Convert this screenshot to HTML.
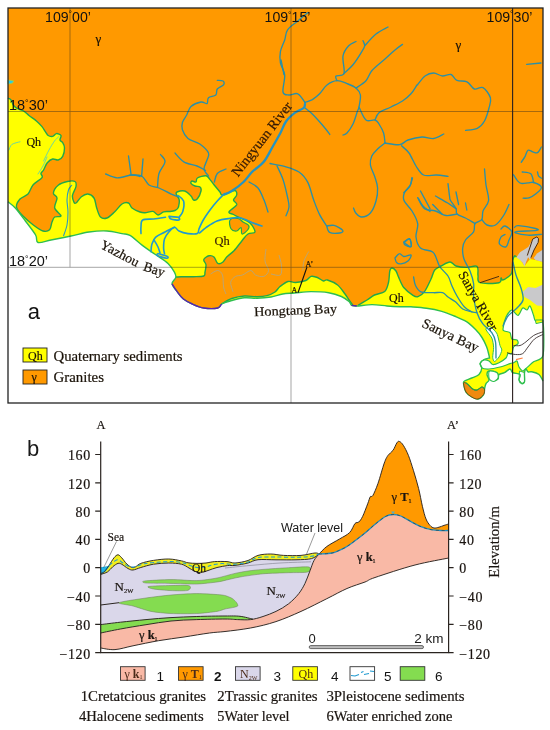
<!DOCTYPE html>
<html lang="en"><head><meta charset="utf-8"><title>Geological map and cross-section</title>
<style>
html,body{margin:0;padding:0;background:#fff;}
svg{display:block;}
text{white-space:pre;}
</style></head><body>
<svg width="550" height="730" viewBox="0 0 550 730">
<rect width="550" height="730" fill="#fff"/>
<g id="map">
<rect x="8" y="8" width="535" height="395" fill="#ff9900"/>
<path d="M8 98.2C8.5 98.5 10.1 98.8 11 100C11.9 101.2 12.4 104 13.6 105.5C14.8 107 16.5 108.1 18.2 109C19.9 109.9 21.8 109.9 23.6 111C25.4 112.1 26.9 113.8 29 115.5C31.1 117.2 34.3 119.2 36.4 121C38.5 122.8 40.3 124.6 41.8 126.4C43.3 128.2 44.4 130.3 45.5 131.8C46.6 133.3 47 134.7 48.2 135.5C49.4 136.3 51.3 136.7 52.7 136.4C54.1 136.1 55 133.8 56.4 133.6C57.8 133.4 60.4 134.4 61 135.5C61.6 136.6 59.7 138.8 60 140C60.3 141.2 62 141.4 62.7 142.7C63.5 144 64.5 145.7 64.5 148C64.5 150.3 63.8 154.4 62.7 156.4C61.7 158.4 59.9 159.6 58.2 160C56.5 160.4 54.5 158.6 52.7 159C50.9 159.4 48.8 160.9 47.3 162.7C45.8 164.5 44.6 168.2 43.6 170C42.6 171.8 41.3 172.2 41 173.5C40.7 174.8 43.3 175.7 42 177.6C40.7 179.5 35.3 182.3 33 185C30.7 187.7 30.2 191.7 28 194C25.8 196.3 21.9 196.8 20 199C18.1 201.2 16 204.2 16.5 207C17 209.8 20.2 213.1 23 216C25.8 218.9 29.7 222.2 33 224.7C36.3 227.2 40.2 230.2 43 231C45.8 231.8 48.1 231.3 49.6 229.8C51.1 228.3 51.1 224.1 52 222C52.9 219.9 53.2 218 54.7 217C56.2 216 61 217.3 61 215.8C61 214.3 55.4 211 54.7 208C54 205 57.2 200.5 57 198C56.8 195.5 53.1 195.2 53.4 193C53.6 190.8 56.2 186.9 58.5 185C60.8 183.1 64.7 182.1 67.4 181.5C70.2 180.9 73.6 180.7 75 181.5C76.4 182.3 76.4 184.2 76 186.5C75.6 188.8 72.9 192.8 72.5 195.4C72.1 198 73.2 200.5 73.8 201.8C74.4 203.1 74.7 203.8 76 203C77.3 202.2 79.4 198.2 81.4 196.7C83.4 195.2 85.7 193.8 87.8 194C89.9 194.2 92.5 195.7 94 198C95.5 200.3 95.6 204.8 96.7 208C97.8 211.2 98.8 215.3 100.5 217C102.2 218.7 104.7 218.8 107 218C109.3 217.2 112 214.3 114.5 212C117 209.7 119.7 205.5 122 204C124.3 202.5 126.8 202.3 128.5 203C130.2 203.7 130.1 206.5 132 208C133.9 209.5 137.8 211.2 140 212C142.2 212.8 142.8 212.8 145 212.7C147.2 212.6 150.8 211 153 211.4C155.2 211.8 156.2 214.9 158 215C159.8 215.1 161.6 212.4 163.6 211.8C165.6 211.2 168.1 211.7 170 211.5C171.9 211.3 173.7 211.1 175 210.5C176.3 209.9 177.3 209.2 178 208C178.7 206.8 179 204.5 179.2 203C179.4 201.5 179.5 200.4 179 199C178.5 197.6 176.7 195.7 176.4 194.5C176.1 193.3 175.6 192.6 177 192C178.4 191.4 182.4 190.3 184.7 191C187 191.7 189.5 194.5 191 196C192.5 197.5 192.5 199.6 193.6 200C194.7 200.4 196.2 200.2 197.4 198.7C198.6 197.2 200.6 192.9 201 191C201.4 189.1 201 187.8 200 187C199 186.2 196.5 186.6 195 186C193.5 185.4 191.5 184.2 191 183.4C190.5 182.6 191.2 181.2 192 181C192.8 180.8 195.1 182.5 196 182C196.9 181.5 195.7 179 197.4 178C199.1 177 203.9 175.5 206 175.8C208.1 176.1 208.7 178.1 210 179.6C211.3 181.1 212.3 182.6 214 184.7C215.7 186.8 218.6 190.3 220 192C221.4 193.7 220.1 195.2 222.5 195C224.9 194.8 232.1 190.5 234.5 190.5C236.9 190.5 236.9 193.4 236.7 195C236.5 196.6 233.5 198.4 233.5 200C233.5 201.6 237.4 202.7 236.7 204.7C235.9 206.7 229.5 210.4 229 212C228.5 213.6 231.7 213.5 233.5 214.5C235.3 215.5 237.2 216.4 240 217.8C242.8 219.2 247.5 220.6 250 223C252.5 225.4 255.3 230.2 255 232C254.7 233.8 250.2 232.6 248 234C245.8 235.4 244.3 237.9 242 240.7C239.7 243.5 236.6 248 234 250.7C231.4 253.4 228.5 255.1 226.7 257C224.9 258.9 224.5 260.9 223 262C221.5 263.1 219.3 264.2 217.8 263.4C216.3 262.6 215.5 258.3 214 257C212.5 255.7 210.7 255.4 209 255.8C207.3 256.2 204.3 258.1 203.8 259.6C203.3 261.1 205.8 262.6 206 264.7C206.2 266.8 205.4 270.1 205 272C204.6 273.9 205.7 275.2 203.8 276C201.9 276.8 197.4 276.6 193.6 276.7C189.8 276.8 184 276.6 181 276.7C178 276.8 176.7 276.9 175.8 277L160 300L8 300Z" fill="#ffff00"/>
<path d="M221.6 304C223.3 303.1 228 299.8 231.8 298.5C235.6 297.2 240.3 296.3 244.5 296C248.7 295.7 253.2 296.8 257 296.7C260.8 296.6 264 296.4 267 295.6C270 294.8 272.8 293.5 275 292C277.2 290.5 277.8 288.2 280 286.5C282.2 284.8 285.4 282.2 288 281.5C290.6 280.8 292.6 282.7 295.6 282.5C298.6 282.3 303.2 281.5 305.8 280.5C308.4 279.5 309.3 277 311 276.4C312.7 275.8 314.3 276.6 315.8 277C317.3 277.4 318.5 278.1 319.8 278.8C321.1 279.5 322.3 280.8 323.6 281C324.9 281.2 325.1 279.3 327.4 280C329.7 280.7 334.7 282.7 337.6 285C340.5 287.3 343.1 291.5 345 294C346.9 296.5 347.7 298.1 349 300C350.3 301.9 352.3 304.5 353 305.4L353 314L221.6 314Z" fill="#ffff00"/>
<path d="M358 305.4C359.5 304.5 364.2 301.7 367 300C369.8 298.3 371.6 296.4 374.5 295C377.4 293.6 382.4 293.5 384.7 291.4C387 289.3 387.6 285.9 388.5 282.5C389.4 279.1 389.2 273.4 389.8 271C390.4 268.6 391 268 392 268C393 268 394.9 269.4 396 271C397.1 272.6 397.4 274.6 398.7 277.4C400 280.2 401.6 284.8 404 287.8C406.4 290.8 410.7 293.9 413 295.4C415.3 296.9 416.1 297.3 418 296.7C419.9 296.1 422.3 294.6 424.5 291.6C426.7 288.7 429.3 282.6 431 279C432.7 275.4 433 272.2 434.7 270C436.4 267.8 438.4 267.3 441 266C443.6 264.7 447.5 262 450 262C452.5 262 453.2 265.1 456 266C458.8 266.9 463 267.3 466.5 267.4C470 267.5 475.1 265 477 266.4C478.9 267.8 477.5 272.8 478 275.5C478.5 278.2 476.5 281.5 480 282.7C483.5 283.9 495.5 283.5 499 282.7C502.5 281.9 500.4 278.4 501 278C501.6 277.6 501.5 280.2 502.7 280C503.9 279.8 506.5 278.2 508 277C509.5 275.8 511 275.4 511.8 272.7C512.6 270 512.2 263.8 512.7 261C513.2 258.2 513.9 256.7 514.5 256C515.1 255.3 516.1 256.8 516.4 257L520 259L524.5 266L530 259L535.5 260L543 262L543 403L358 403Z" fill="#ffff00"/>
<path d="M230 220C228.8 221.7 229.9 226.9 231 228.7C232.1 230.5 235 231.2 236.7 231C238.4 230.8 240.1 227 241 227.5C241.9 228 240.9 233.6 242 234C243.1 234.4 246.5 231.4 247.6 230C248.7 228.6 249.5 226.8 248.7 225.5C247.9 224.2 244.8 223.2 243 222C241.2 220.8 240.2 218.8 238 218.5C235.8 218.2 231.2 218.3 230 220Z" fill="#ff9900" stroke="#22a84a" stroke-width="1.2"/>
<path d="M516.4 257.3 L520 252.2 L526.4 248.2 L528.5 246.7 L532.7 239.1 L536.9 236.9 L538.5 238.7 L538.2 242.4 L534 250 L530.9 257.6 L530 260 L528.2 257.3 L526.4 261.3 L524.5 266.4 L522.7 262.7 L520 260Z" fill="#c9c9cb"/>
<path d="M543 249.5 L537 253.6 L533.6 258 L535.5 260 L543 262Z" fill="#c9c9cb"/>
<path d="M522.7 292 L528 287 L535.5 288 L543 284.5 L543 306 L537 305.5 L530 300 L524.5 297Z" fill="#c9c9cb"/>
<path d="M527.3 255.5 L532.7 239.1 L536.9 236.9 L538.5 238.7 L538.2 242.4 L534 250 L530.9 257.6" fill="none" stroke="#4a2a10" stroke-width="1"/>
<path d="M8 201.8C9.2 202.8 12.4 204.8 15.3 208C18.2 211.2 22 216.5 25.4 221C28.8 225.5 33.5 231.4 35.6 235C37.7 238.6 35.4 241.7 38 242.5C40.6 243.3 45.5 241.1 51 240C56.5 238.9 64.7 237.3 71 236C77.3 234.7 83 232.8 89 232C95 231.2 101.5 230.7 107 231C112.5 231.3 118.2 232.9 122 233.6C125.8 234.3 126.5 233.4 130 235.4C133.4 237.4 138.5 242.4 142.7 245.6C146.9 248.8 151.2 251.5 155.4 254.5C159.6 257.5 164.8 260.4 168 263.4C171.2 266.4 173.2 270 174.5 272.3C175.8 274.6 176.2 275.5 175.8 277.4C175.4 279.3 171.8 281.5 172 283.8C172.2 286.1 175.1 288.9 177 291.4C178.9 293.9 180.8 296.9 183.4 299C186 301.1 188.9 302.5 192.3 304C195.7 305.5 199.6 307.3 203.8 308C208.1 308.7 214.8 308.7 217.8 308C220.8 307.3 219.3 305.2 221.6 304C223.9 302.8 228 301.5 231.8 300.5C235.6 299.5 240.3 298.2 244.5 297.8C248.7 297.4 252.6 298.3 257 298.2C261.4 298.1 266.7 297.7 271 297C275.3 296.3 278.8 294.7 282.7 294C286.6 293.3 289.9 293.4 294.6 293C299.3 292.6 305.3 291.7 311 291.6C316.7 291.6 323.6 291.9 328.7 292.7C333.8 293.5 338 295 341.4 296.5C344.8 298 347.3 300.1 349 301.6C350.7 303.1 350.3 304.7 351.6 305.4C352.9 306.1 353.3 306.1 356.7 306C360.1 305.9 366.9 304.6 372 304.6C377.1 304.6 382.3 305.6 387 306C391.7 306.4 396 306.6 400 306.7C404 306.8 406.6 306.6 411 306.8C415.4 307.1 421.3 307.4 426.4 308.2C431.5 308.9 437.2 310 441.8 311.3C446.4 312.6 450.1 314.3 454.2 316C458.3 317.7 462.9 319.4 466.5 321.7C470.1 324 473.2 327.2 475.8 329.8C478.4 332.4 480.2 334.7 482 337.5C483.8 340.3 485.5 344 486.6 346.8C487.7 349.6 488.3 352.6 488.8 354.5C489.3 356.4 489.4 357.4 489.5 358C488.6 358.2 485.6 358.6 484 359.5C482.4 360.4 480.4 362.1 480 363.5C479.6 364.9 482 366.2 481.8 368C481.6 369.8 480.7 372.8 479 374.5C477.3 376.2 474.2 376.9 471.8 378C469.4 379.1 465.9 380.1 464.5 381C463.1 381.9 463.4 381.8 463.6 383.6C463.9 385.4 464.6 389.8 466 392C467.4 394.2 469.8 395.8 471.8 397C473.8 398.2 476 399.4 478 399C480 398.6 482.5 396.2 483.6 394.5C484.7 392.8 484.1 390.8 484.5 389C484.9 387.2 485.2 385.1 486 383.6C486.8 382.1 488.8 381.5 489 380C489.2 378.5 487 376 487 374.5C487 373 487.3 371.3 489 371C490.7 370.7 495.5 371.5 497 372.7C498.5 373.9 498.6 376.6 498 378C497.4 379.4 493.6 380.8 493.6 381C493.6 381.2 497.1 380.1 498 379C498.9 377.9 497.9 375.6 499 374.5C500.1 373.4 502.7 373.6 504.5 372.7C506.3 371.8 508.6 369 510 369C511.4 369 511 371.8 512.7 372.7C514.4 373.6 519 373.3 520 374.5C521 375.7 518.7 378.5 519 380C519.3 381.5 520.9 383.3 521.8 383.6C522.7 383.9 524 383.6 524.5 381.8C525 380 524.2 374.8 524.5 372.7C524.8 370.6 525.4 369.1 526 369C526.6 368.9 527 371.3 528 371.8C529 372.3 530 371.4 531.8 371.8C533.6 372.2 537.1 373 539 374.5C540.9 376 542.3 379.9 543 381L543 403L8 403Z" fill="#fff"/>
<path d="M480.5 363C480.8 361.9 482.9 360.3 484 360C485.1 359.7 487.8 360.4 489 361C490.2 361.6 491.4 364.3 492.7 364.5C494 364.7 497.2 363.6 499 362.7C500.8 361.8 504.8 359.2 506 358C507.2 356.8 507.2 354.2 508 353.6C508.8 353 511.1 354.5 511.8 353.6C512.5 352.7 512.8 348.3 513.6 347C514.4 345.7 517.5 344.5 518 343.6C518.5 342.7 517.8 340.6 517 340C516.2 339.4 512.7 340 511.8 339C510.9 338 511 333.8 510 332.7C509 331.6 505.4 331.5 504.5 331C503.6 330.5 502.8 330.9 503 329C503.2 327.1 504.8 319.5 506 317C507.2 314.5 510.2 310.2 511.8 310C513.4 309.8 516.5 315.8 518 315.5C519.5 315.2 521.5 308.7 522.7 308C523.9 307.3 526 310.3 527 310C528 309.7 529.1 305.3 530 306C530.9 306.7 532.9 313.5 533.6 315.5C534.3 317.5 534.2 320 535.5 321C536.8 322 542 318.1 543 322.7C544 327.3 544.3 350.3 543 355.5C541.7 360.7 535.9 360.1 533.6 361.8C531.3 363.5 527.5 367.3 526 368.5C524.5 369.7 523.6 371.2 522.7 371C521.8 370.8 519.8 368.3 519 367C518.2 365.7 517.7 361.6 517 361C516.3 360.4 514.5 362.4 513.6 362.7C512.7 363 511.8 363 510 363.6C508.2 364.2 502.8 366.3 500 367C497.2 367.7 491.4 368.9 489 369C486.6 369.1 483.1 368.8 482 368C480.9 367.2 480.2 364.1 480.5 363Z" fill="#fff" stroke="#2fbf4f" stroke-width="1.2"/>
<path d="M535.5 320L536 323.6L543 322L543 320Z" fill="#ffff00" stroke="#2fbf4f" stroke-width="1"/>
<path d="M519.5 371L524.5 372.500L524.5 382L521.8 383.600L519 380Z" fill="#fff" stroke="#2fbf4f" stroke-width="1"/>
<path d="M486 329.5C486.3 331 490.8 335.6 491.8 338C492.8 340.4 493.5 344.7 493.6 347.3C493.7 349.9 492.6 355.4 492.7 357.3C492.8 359.2 493.7 361.5 494.5 361.5C495.3 361.5 498 358.5 499 357C500 355.5 501.7 351.5 501.8 350C501.9 348.5 500.6 347.6 500 345.5C499.4 343.4 498.1 336.6 497.3 334.5C496.5 332.4 495 331.1 494 330C493 328.9 490.6 326.6 489.5 326.5C488.4 326.4 485.7 328 486 329.5Z" fill="#fff" stroke="#2fbf4f" stroke-width="1"/>
<path d="M8 98.2C8.5 98.5 10.1 98.8 11 100C11.9 101.2 12.4 104 13.6 105.5C14.8 107 16.5 108.1 18.2 109C19.9 109.9 21.8 109.9 23.6 111C25.4 112.1 26.9 113.8 29 115.5C31.1 117.2 34.3 119.2 36.4 121C38.5 122.8 40.3 124.6 41.8 126.4C43.3 128.2 44.4 130.3 45.5 131.8C46.6 133.3 47 134.7 48.2 135.5C49.4 136.3 51.3 136.7 52.7 136.4C54.1 136.1 55 133.8 56.4 133.6C57.8 133.4 60.4 134.4 61 135.5C61.6 136.6 59.7 138.8 60 140C60.3 141.2 62 141.4 62.7 142.7C63.5 144 64.5 145.7 64.5 148C64.5 150.3 63.8 154.4 62.7 156.4C61.7 158.4 59.9 159.6 58.2 160C56.5 160.4 54.5 158.6 52.7 159C50.9 159.4 48.8 160.9 47.3 162.7C45.8 164.5 44.6 168.2 43.6 170C42.6 171.8 41.3 172.2 41 173.5C40.7 174.8 43.3 175.7 42 177.6C40.7 179.5 35.3 182.3 33 185C30.7 187.7 30.2 191.7 28 194C25.8 196.3 21.9 196.8 20 199C18.1 201.2 16 204.2 16.5 207C17 209.8 20.2 213.1 23 216C25.8 218.9 29.7 222.2 33 224.7C36.3 227.2 40.2 230.2 43 231C45.8 231.8 48.1 231.3 49.6 229.8C51.1 228.3 51.1 224.1 52 222C52.9 219.9 53.2 218 54.7 217C56.2 216 61 217.3 61 215.8C61 214.3 55.4 211 54.7 208C54 205 57.2 200.5 57 198C56.8 195.5 53.1 195.2 53.4 193C53.6 190.8 56.2 186.9 58.5 185C60.8 183.1 64.7 182.1 67.4 181.5C70.2 180.9 73.6 180.7 75 181.5C76.4 182.3 76.4 184.2 76 186.5C75.6 188.8 72.9 192.8 72.5 195.4C72.1 198 73.2 200.5 73.8 201.8C74.4 203.1 74.7 203.8 76 203C77.3 202.2 79.4 198.2 81.4 196.7C83.4 195.2 85.7 193.8 87.8 194C89.9 194.2 92.5 195.7 94 198C95.5 200.3 95.6 204.8 96.7 208C97.8 211.2 98.8 215.3 100.5 217C102.2 218.7 104.7 218.8 107 218C109.3 217.2 112 214.3 114.5 212C117 209.7 119.7 205.5 122 204C124.3 202.5 126.8 202.3 128.5 203C130.2 203.7 130.1 206.5 132 208C133.9 209.5 137.8 211.2 140 212C142.2 212.8 142.8 212.8 145 212.7C147.2 212.6 150.8 211 153 211.4C155.2 211.8 156.2 214.9 158 215C159.8 215.1 161.6 212.4 163.6 211.8C165.6 211.2 168.1 211.7 170 211.5C171.9 211.3 173.7 211.1 175 210.5C176.3 209.9 177.3 209.2 178 208C178.7 206.8 179 204.5 179.2 203C179.4 201.5 179.5 200.4 179 199C178.5 197.6 176.7 195.7 176.4 194.5C176.1 193.3 175.6 192.6 177 192C178.4 191.4 182.4 190.3 184.7 191C187 191.7 189.5 194.5 191 196C192.5 197.5 192.5 199.6 193.6 200C194.7 200.4 196.2 200.2 197.4 198.7C198.6 197.2 200.6 192.9 201 191C201.4 189.1 201 187.8 200 187C199 186.2 196.5 186.6 195 186C193.5 185.4 191.5 184.2 191 183.4C190.5 182.6 191.2 181.2 192 181C192.8 180.8 195.1 182.5 196 182C196.9 181.5 195.7 179 197.4 178C199.1 177 203.9 175.5 206 175.8C208.1 176.1 208.7 178.1 210 179.6C211.3 181.1 212.3 182.6 214 184.7C215.7 186.8 218.6 190.3 220 192C221.4 193.7 220.1 195.2 222.5 195C224.9 194.8 232.1 190.5 234.5 190.5C236.9 190.5 236.9 193.4 236.7 195C236.5 196.6 233.5 198.4 233.5 200C233.5 201.6 237.4 202.7 236.7 204.7C235.9 206.7 229.5 210.4 229 212C228.5 213.6 231.7 213.5 233.5 214.5C235.3 215.5 237.2 216.4 240 217.8C242.8 219.2 247.5 220.6 250 223C252.5 225.4 255.3 230.2 255 232C254.7 233.8 250.2 232.6 248 234C245.8 235.4 244.3 237.9 242 240.7C239.7 243.5 236.6 248 234 250.7C231.4 253.4 228.5 255.1 226.7 257C224.9 258.9 224.5 260.9 223 262C221.5 263.1 219.3 264.2 217.8 263.4C216.3 262.6 215.5 258.3 214 257C212.5 255.7 210.7 255.4 209 255.8C207.3 256.2 204.3 258.1 203.8 259.6C203.3 261.1 205.8 262.6 206 264.7C206.2 266.8 205.4 270.1 205 272C204.6 273.9 205.7 275.2 203.8 276C201.9 276.8 197.4 276.6 193.6 276.7C189.8 276.8 184 276.6 181 276.7C178 276.8 176.7 276.9 175.8 277" fill="none" stroke="#22a84a" stroke-width="1.4"/>
<path d="M221.6 304C223.3 303.1 228 299.8 231.8 298.5C235.6 297.2 240.3 296.3 244.5 296C248.7 295.7 253.2 296.8 257 296.7C260.8 296.6 264 296.4 267 295.6C270 294.8 272.8 293.5 275 292C277.2 290.5 277.8 288.2 280 286.5C282.2 284.8 285.4 282.2 288 281.5C290.6 280.8 292.6 282.7 295.6 282.5C298.6 282.3 303.2 281.5 305.8 280.5C308.4 279.5 309.3 277 311 276.4C312.7 275.8 314.3 276.6 315.8 277C317.3 277.4 318.5 278.1 319.8 278.8C321.1 279.5 322.3 280.8 323.6 281C324.9 281.2 325.1 279.3 327.4 280C329.7 280.7 334.7 282.7 337.6 285C340.5 287.3 343.1 291.5 345 294C346.9 296.5 347.7 298.1 349 300C350.3 301.9 352.3 304.5 353 305.4" fill="none" stroke="#22a84a" stroke-width="1.4"/>
<path d="M358 305.4C359.5 304.5 364.2 301.7 367 300C369.8 298.3 371.6 296.4 374.5 295C377.4 293.6 382.4 293.5 384.7 291.4C387 289.3 387.6 285.9 388.5 282.5C389.4 279.1 389.2 273.4 389.8 271C390.4 268.6 391 268 392 268C393 268 394.9 269.4 396 271C397.1 272.6 397.4 274.6 398.7 277.4C400 280.2 401.6 284.8 404 287.8C406.4 290.8 410.7 293.9 413 295.4C415.3 296.9 416.1 297.3 418 296.7C419.9 296.1 422.3 294.6 424.5 291.6C426.7 288.7 429.3 282.6 431 279C432.7 275.4 433 272.2 434.7 270C436.4 267.8 438.4 267.3 441 266C443.6 264.7 447.5 262 450 262C452.5 262 453.2 265.1 456 266C458.8 266.9 463 267.3 466.5 267.4C470 267.5 475.1 265 477 266.4C478.9 267.8 477.5 272.8 478 275.5C478.5 278.2 476.5 281.5 480 282.7C483.5 283.9 495.5 283.5 499 282.7C502.5 281.9 500.4 278.4 501 278C501.6 277.6 501.5 280.2 502.7 280C503.9 279.8 506.5 278.2 508 277C509.5 275.8 511 275.4 511.8 272.7C512.6 270 512.2 263.8 512.7 261C513.2 258.2 513.9 256.7 514.5 256C515.1 255.3 516.1 256.8 516.4 257" fill="none" stroke="#22a84a" stroke-width="1.4"/>
<path d="M8 201.8C9.2 202.8 12.4 204.8 15.3 208C18.2 211.2 22 216.5 25.4 221C28.8 225.5 33.5 231.4 35.6 235C37.7 238.6 35.4 241.7 38 242.5C40.6 243.3 45.5 241.1 51 240C56.5 238.9 64.7 237.3 71 236C77.3 234.7 83 232.8 89 232C95 231.2 101.5 230.7 107 231C112.5 231.3 118.2 232.9 122 233.6C125.8 234.3 126.5 233.4 130 235.4C133.4 237.4 138.5 242.4 142.7 245.6C146.9 248.8 151.2 251.5 155.4 254.5C159.6 257.5 164.8 260.4 168 263.4C171.2 266.4 173.2 270 174.5 272.3C175.8 274.6 176.2 275.5 175.8 277.4C175.4 279.3 171.8 281.5 172 283.8C172.2 286.1 175.1 288.9 177 291.4C178.9 293.9 180.8 296.9 183.4 299C186 301.1 188.9 302.5 192.3 304C195.7 305.5 199.6 307.3 203.8 308C208.1 308.7 214.8 308.7 217.8 308C220.8 307.3 219.3 305.2 221.6 304C223.9 302.8 228 301.5 231.8 300.5C235.6 299.5 240.3 298.2 244.5 297.8C248.7 297.4 252.6 298.3 257 298.2C261.4 298.1 266.7 297.7 271 297C275.3 296.3 278.8 294.7 282.7 294C286.6 293.3 289.9 293.4 294.6 293C299.3 292.6 305.3 291.7 311 291.6C316.7 291.6 323.6 291.9 328.7 292.7C333.8 293.5 338 295 341.4 296.5C344.8 298 347.3 300.1 349 301.6C350.7 303.1 350.3 304.7 351.6 305.4C352.9 306.1 353.3 306.1 356.7 306C360.1 305.9 366.9 304.6 372 304.6C377.1 304.6 382.3 305.6 387 306C391.7 306.4 396 306.6 400 306.7C404 306.8 406.6 306.6 411 306.8C415.4 307.1 421.3 307.4 426.4 308.2C431.5 308.9 437.2 310 441.8 311.3C446.4 312.6 450.1 314.3 454.2 316C458.3 317.7 462.9 319.4 466.5 321.7C470.1 324 473.2 327.2 475.8 329.8C478.4 332.4 480.2 334.7 482 337.5C483.8 340.3 485.5 344 486.6 346.8C487.7 349.6 488.3 352.6 488.8 354.5C489.3 356.4 489.4 357.4 489.5 358C488.6 358.2 485.6 358.6 484 359.5C482.4 360.4 480.4 362.1 480 363.5C479.6 364.9 482 366.2 481.8 368C481.6 369.8 480.7 372.8 479 374.5C477.3 376.2 474.2 376.9 471.8 378C469.4 379.1 465.9 380.1 464.5 381C463.1 381.9 463.4 381.8 463.6 383.6C463.9 385.4 464.6 389.8 466 392C467.4 394.2 469.8 395.8 471.8 397C473.8 398.2 476 399.4 478 399C480 398.6 482.5 396.2 483.6 394.5C484.7 392.8 484.1 390.8 484.5 389C484.9 387.2 485.2 385.1 486 383.6C486.8 382.1 488.8 381.5 489 380C489.2 378.5 487 376 487 374.5C487 373 487.3 371.3 489 371C490.7 370.7 495.5 371.5 497 372.7C498.5 373.9 498.6 376.6 498 378C497.4 379.4 493.6 380.8 493.6 381C493.6 381.2 497.1 380.1 498 379C498.9 377.9 497.9 375.6 499 374.5C500.1 373.4 502.7 373.6 504.5 372.7C506.3 371.8 508.6 369 510 369C511.4 369 511 371.8 512.7 372.7C514.4 373.6 519 373.3 520 374.5C521 375.7 518.7 378.5 519 380C519.3 381.5 520.9 383.3 521.8 383.6C522.7 383.9 524 383.6 524.5 381.8C525 380 524.2 374.8 524.5 372.7C524.8 370.6 525.4 369.1 526 369C526.6 368.9 527 371.3 528 371.8C529 372.3 530 371.4 531.8 371.8C533.6 372.2 537.1 373 539 374.5C540.9 376 542.3 379.9 543 381" fill="none" stroke="#2fbf4f" stroke-width="1.4"/>
<path d="M489.3 371.2C490.3 370.4 495.8 371.8 497 372.7C498.2 373.6 498.5 376.8 498 378C497.5 379.2 494.8 381.4 493.6 381.5C492.4 381.6 489.9 380.4 489.3 379C488.7 377.6 488.3 372 489.3 371.2Z" fill="#fff" stroke="#2fbf4f" stroke-width="1.1"/>
<path d="M172 283.8C172.8 285.1 175.1 288.9 177 291.4C178.9 293.9 180.8 296.9 183.4 299C186 301.1 188.9 302.5 192.3 304C195.7 305.5 199.6 307.3 203.8 308C208.1 308.7 214.8 308.7 217.8 308C220.8 307.3 221 304.7 221.6 304" fill="none" stroke="#5a22b0" stroke-width="1.4"/>
<path d="M351.6 305.400L356.7 306" fill="none" stroke="#5a22b0" stroke-width="1.4"/>
<path d="M463.6 383.6C463.7 385.2 464.6 389.8 466 392C467.4 394.2 469.8 395.8 471.8 397C473.8 398.2 476 399.4 478 399C480 398.6 482.5 396.2 483.6 394.5C484.7 392.8 484.8 390.2 484.5 389C484.2 387.8 483.1 386.8 481.8 387C480.6 387.2 478.5 389.7 477 390C475.5 390.3 474.2 389.9 472.7 389C471.2 388.1 469.2 385.6 468 384.5C466.8 383.4 466.2 382.8 465.5 382.7C464.8 382.6 463.5 382.1 463.6 383.6Z" fill="#f08a10" stroke="#5a3a10" stroke-width="0.8"/>
<path d="M465.5 382.7C465.9 383 466.8 383.4 468 384.5C469.2 385.6 471.2 388.1 472.7 389C474.2 389.9 475.5 390.3 477 390C478.5 389.7 480.6 387.2 481.8 387C483.1 386.8 484.1 388.7 484.5 389" fill="none" stroke="#22a84a" stroke-width="1.2"/>
<path d="M266 249C265.8 251 264.6 257.4 265 261C265.4 264.6 268.7 267.9 268.5 270.5C268.3 273.1 266 275.6 263.8 276.4C261.6 277.1 257.7 276 255.5 275C253.3 274 253 270.5 250.8 270.5C248.6 270.5 245.1 274 242.5 275C239.9 276 237.5 275.2 235.5 276.4C233.5 277.6 231.1 279.8 230.7 282.3C230.3 284.9 232.6 290.1 233 291.7" fill="none" stroke="#b3a680" stroke-width="0.9"/>
<path d="M279 255C279.4 256.8 281.3 262.4 281.5 265.7C281.7 269 282.1 273.6 280.4 275C278.6 276.4 272.6 274.2 271 274" fill="none" stroke="#b3a680" stroke-width="0.9"/>
<path d="M210.6 274C211.8 273.4 215.7 270.3 217.7 270.5C219.7 270.7 221.5 272.2 222.5 275C223.5 277.8 223 283.8 223.6 287C224.2 290.2 225.6 292.8 226 294" fill="none" stroke="#b3a680" stroke-width="0.9"/>
<path d="M308.7 251.5C307.9 253.1 305 257.8 304 261C303 264.2 303 268.9 302.8 270.5" fill="none" stroke="#b3a680" stroke-width="0.9"/>
<g fill="none" stroke="#2b90a6" stroke-width="1.35" stroke-linecap="round" stroke-linejoin="round">
<path d="M217.3 80.4C218.2 80.5 221.9 80.3 223 81C224.1 81.7 224.6 83.4 223.7 84.7C222.8 86 218.6 87.3 217.3 89C216 90.7 217.3 93.5 215.8 95C214.3 96.5 210 96.4 208.5 97.8C207 99.2 208.2 102.9 207 103.6C205.8 104.3 203.7 101.5 201 102C198.3 102.5 193.4 104.3 191 106.5C188.6 108.7 188.1 112.3 186.7 115C185.3 117.7 183.1 120 182.4 122.5C181.7 125 181.5 127.1 182.4 129.8C183.3 132.5 185.1 136.1 188 138.5C190.9 140.9 196.4 141.6 199.8 144C203.2 146.4 207.3 150.3 208.5 153C209.7 155.7 207.8 157.3 207 160C206.2 162.7 203.8 166.3 204 169C204.2 171.7 207.8 174.8 208.5 176"/>
<path d="M130 175C131.9 175.2 138.4 174.3 141.6 176C144.8 177.7 146.1 183 149 185C151.9 187 155.4 186.5 159 188C162.6 189.5 167.5 192.4 170.7 193.8C173.9 195.2 176.8 196.2 178 196.7"/>
<path d="M143 159 L141.6 176.4"/>
<path d="M160.5 154.5C161.2 155.7 165.2 158.6 165 161.8C164.8 165 160.2 169.4 159 173.5C157.8 177.6 157.8 184.3 157.6 186.5"/>
<path d="M175 153C176.5 154.5 180.1 159.6 183.8 161.8C187.5 164 193.4 164.6 197 166C200.6 167.4 204.2 169.8 205.6 170.5"/>
<path d="M226 169C224.6 169.8 219.2 171.3 217.3 173.5C215.4 175.7 214.9 180.6 214.4 182"/>
<path d="M105.6 174C107.5 174.6 112.6 177.6 117 177.8C121.4 178 128.2 175.2 132 175C135.8 174.8 138.7 176.2 140 176.5"/>
<path d="M128.5 156 L131 174"/>
<path d="M308 12.4C306.3 13.8 301.2 18.1 297.8 21C294.4 23.9 289.8 26.6 287.6 29.8C285.4 33 285.9 36.4 284.7 40C283.5 43.6 281.1 47.8 280.4 51.6C279.7 55.4 279.7 59.1 280.4 63C281.1 66.9 284.3 70.2 284.7 75C285.1 79.8 282.3 88.7 283 92C283.7 95.3 286.5 94.7 289 95C291.5 95.3 295.1 92.5 297.8 93.8C300.5 95 303.8 101 305 102.5"/>
<path d="M305 102.5C306.2 102 310 101 312.4 99.6C314.8 98.1 317.2 96.2 319.6 93.8C322 91.4 324.1 87.2 327 85C329.9 82.8 333.7 80.9 337 80.7C340.3 80.5 343.8 82.4 347 83.6C350.2 84.8 353.8 86.1 356 88C358.2 89.9 359.9 91.8 360.4 95C360.9 98.2 359.5 104.3 359 107C358.5 109.7 358.5 108.2 357.5 111C356.5 113.8 354.8 120.3 353 124C351.2 127.7 348.7 131.2 347 133C345.3 134.8 343.7 134.7 343 135"/>
<path d="M337 80.7C336.8 79.9 334.8 77.2 336 76C337.2 74.8 342.8 76.8 344 73.5C345.2 70.2 342.2 60.6 343 56C343.8 51.4 346.5 48.2 348.7 45.8C350.9 43.4 354.8 42.2 356 41.5"/>
<path d="M344 73.5C345.5 72 350 68.4 353 64.7C356 61.1 359.9 54.8 361.8 51.6C363.8 48.5 364.5 47.6 364.7 45.8C364.9 44 363.3 41.5 363 40.6"/>
<path d="M364.7 45.8C366.6 43.8 372.1 37.1 376 34C379.9 30.9 386 28.2 388 27"/>
<path d="M356 88C357.7 86.8 363.3 83.6 366 80.7C368.7 77.8 368.8 74.1 372 70.5C375.2 66.9 381.2 62.4 385 59C388.8 55.6 392.1 52.4 395 50C397.9 47.6 401.2 45.3 402.5 44.4"/>
<path d="M305 108C306 108.8 308.8 110.7 311 112.7C313.2 114.7 315.6 117.3 318 120C320.4 122.7 323.5 126.3 325.5 128.7C327.5 131.1 329.1 133.5 329.8 134.5"/>
<path d="M359 107C360.2 109.2 363.3 117.8 366 120C368.7 122.2 372.8 119.3 375 120C377.2 120.7 377.6 121.8 379 124C380.4 126.2 382.6 129.8 383.6 133C384.6 136.2 384.8 141.3 385 143"/>
<path d="M375 120C375.7 118.8 376.3 114.9 379 112.7C381.7 110.5 387.1 109 391 107C394.9 105 399.2 103.2 402.5 101C405.8 98.8 408.6 96.5 411 93.8C413.4 91.1 415.9 86.5 417 85C418.1 83.5 416.3 86.2 417.6 84.7C418.9 83.2 422.3 78 425 76C427.7 74 430.7 73 433.6 73C436.5 73 439.5 75.8 442.4 76C445.3 76.2 448.6 73.8 451 74.5C453.4 75.2 454.3 79.2 457 80.4C459.7 81.6 464.1 80.4 467 81.8C469.9 83.2 471.7 88 474.4 89C477.1 90 480.3 86.1 483 87.6C485.7 89.1 489.4 94.4 490.4 97.8C491.4 101.2 490 104.1 489 108C488 111.9 486.4 117.6 484.5 121C482.6 124.4 480.4 126.8 477.3 128.4C474.2 130 467.6 130.1 465.6 130.4"/>
<path d="M385 143C387.4 143.3 395.8 145.2 399.6 144.7C403.4 144.2 404.3 141.3 408 140C411.7 138.7 417.7 137.2 422 137C426.3 136.8 430 139 433.6 138.5C437.2 138 442.1 134.8 443.8 134"/>
<path d="M401.6 145.8C402.8 147 406.6 149.6 409 153C411.4 156.4 413.6 162.3 416 166C418.4 169.7 420.1 173.5 423.5 175C426.9 176.5 432.4 174.8 436.5 175C440.6 175.2 446.1 176.2 448 176.4"/>
<path d="M411.8 177.8C411.6 179 411.6 182.6 410.4 185C409.2 187.4 405.6 189.8 404.5 192.4C403.4 195 402.8 197.4 404 200.5C405.2 203.6 409.7 207.2 412 211C414.3 214.8 417 219.3 417.7 223.6C418.4 227.9 415.5 232.9 416 237C416.5 241.1 417.7 245.5 420.5 248C423.3 250.5 429.9 250 432.7 252C435.4 254 435.8 257.5 437 260C438.2 262.5 438.2 264.3 440 267C441.8 269.7 446 272.9 448 276C450 279.1 450.3 282.2 451.8 285.5C453.3 288.8 454.9 292.4 457 296C459.1 299.6 462 304.4 464.5 307C467 309.6 470.6 311 471.8 311.8"/>
<path d="M484.5 169C484.8 171.7 485.3 179.8 486 185C486.7 190.2 489.1 196.2 488.6 200.5C488.1 204.8 484.1 207.8 483 211C481.9 214.2 483.1 217.4 481.8 219.5C480.5 221.6 476.4 221.5 475 223.6C473.6 225.7 475.2 229.1 473.6 231.8C472 234.5 467.3 237.3 465.5 240C463.7 242.7 462.9 244.8 462.7 248C462.4 251.2 462.8 255.2 464 259C465.2 262.8 468.4 266.9 470 271C471.6 275.1 473 279.4 473.6 283.6C474.2 287.8 473 291.1 473.6 296C474.2 300.9 475.5 308.1 477 312.7C478.5 317.3 480.2 320.3 482.7 323.6C485.2 326.9 489.7 329.7 491.8 332.7C493.9 335.7 494.8 337.6 495.5 341.8C496.2 346 495.9 355.3 496 358"/>
<path d="M413.6 277C413.9 278.4 414.3 283 415.5 285.5C416.7 288 418 290.6 421 291.8C424 293 430 292.6 433.6 292.7C437.2 292.8 440.3 292 442.7 292.7C445.1 293.4 445.9 295.5 448 297C450.1 298.5 453.1 299.8 455.5 301.8C457.9 303.8 460 307.3 462.7 309C465.4 310.7 469.4 311.2 471.8 311.8C474.2 312.4 476.1 312.6 477 312.7"/>
<path d="M448 183.6C448.3 185.8 449.2 193.9 449.6 196.7C450 199.5 449.4 198.5 450.5 200.5C451.6 202.5 454.9 206.3 456 208.6C457.1 210.8 455.4 212.4 457 214C458.6 215.6 462.5 216.4 465.5 218C468.5 219.6 473.4 222.7 475 223.6"/>
<path d="M417.7 197.7C418.8 199.5 421.5 206.4 424.5 208.6C427.5 210.8 431.9 209.8 435.5 211C439.1 212.2 442.4 215 446 215.5C449.6 216 455.2 214.2 457 214"/>
<path d="M420.5 191 L430 208.6"/>
<path d="M435.5 196C437.5 197.2 444.3 200.9 447.7 203C451.1 205.1 454.6 207.7 456 208.6"/>
<path d="M456 192 L458.6 204.5"/>
<path d="M432.7 204.5 L442 214"/>
<path d="M465.5 203 L466.8 210"/>
<path d="M481.8 219.5C482.7 220.4 484.7 224.1 487 225C489.3 225.9 492.7 226.6 495.5 225C498.3 223.4 501.4 218.9 503.6 215.5C505.9 212.1 508.1 206.3 509 204.5"/>
<path d="M501 229C501.7 228.5 503.2 225.5 505 226C506.8 226.5 511.1 229.5 511.8 231.8C512.5 234.1 510 237.5 509 240C508 242.5 507.6 246.1 506 246.8C504.4 247.5 500.3 245.6 499.5 244C498.7 242.4 500.1 238.6 501 237C501.9 235.4 504.3 234.9 505 234.5"/>
<path d="M526.7 64.4 L541 63"/>
<path d="M521.2 162.3C521.8 161.4 523.9 158.6 525 156.6C526.1 154.6 526.7 151 528 150.2C529.3 149.4 531.1 151.4 532.7 151.8C534.3 152.2 536 153.5 537.5 152.7C539 151.9 540.8 147.9 541.4 147"/>
<path d="M513.6 174.8C514.2 175.8 516.1 179.2 517.4 180.6C518.7 182 519.4 183 521.2 183.4C523 183.8 525.9 183.1 528 182.9C530.1 182.8 531.5 181.8 533.7 182.5C535.9 183.2 541.1 185.4 541.4 187.3C541.7 189.2 537.7 192.2 535.6 194C533.5 195.8 531.1 197.1 529 197.8C526.9 198.5 524.2 198.1 523.2 198.2"/>
<path d="M522.2 172C523.6 172.3 528.9 172.1 530.8 173.8C532.7 175.6 533.2 181.1 533.7 182.5"/>
<path d="M537.5 172C537.7 172.6 537.9 174.8 538.5 175.8C539.1 176.8 540.9 177.8 541.4 178.2"/>
<path d="M514.5 227.5C515.1 227.2 514.9 225.4 518.4 225.6C521.9 225.8 532.6 227.7 535.6 228.5C538.6 229.3 539.5 229.9 536.6 230.4C533.7 230.9 521.9 231 518.4 231.4C514.9 231.8 513.9 232.2 515.5 232.8C517.1 233.4 523.7 234.9 528 235.2C532.3 235.4 539.2 234.5 541.4 234.3"/>
<path d="M270 163.5C272.4 164 279.7 165 284.5 166.4C289.3 167.8 295.1 169.3 299 172C302.9 174.7 305.4 177.8 307.8 182.4C310.2 187 311.7 194.5 313.6 199.8C315.6 205.1 317.3 210 319.5 214.4C321.7 218.8 325.5 224.1 326.7 226"/>
<path d="M326.7 226C327.9 225.9 331.3 224.7 334 225.4C336.7 226.1 341.7 229.1 342.7 230.4C343.7 231.7 342 232.7 339.8 233C337.6 233.3 331.8 233.6 329.6 232.4C327.4 231.2 327.2 227.1 326.7 226"/>
<path d="M277 166C278 168.2 281.2 174.3 283 179.5C284.8 184.7 286.5 192.4 287.5 197C288.5 201.6 289.2 203.9 289 207C288.8 210.1 286.5 214.3 286 215.8"/>
<path d="M385 143C383.8 144 379.8 146.8 377.6 149C375.4 151.2 373 153.3 371.8 156C370.6 158.7 369.9 161.6 370.4 165C370.9 168.4 373.5 172.7 374.7 176.5C375.9 180.3 377.4 183.9 377.6 188C377.8 192.1 377.2 196.8 376 201C374.8 205.2 372.8 210.3 370.4 213C368 215.7 364 217 361.6 217C359.2 217 357.2 214.5 355.8 213C354.4 211.5 353.9 208.8 353.5 208"/>
<path d="M412.5 178C412 179.4 411.1 184.3 409.6 186.7C408.2 189.1 404.8 191.5 403.8 192.5"/>
<path d="M418.4 198.4C419.1 199.6 420.8 203.4 422.7 205.6C424.6 207.8 428.8 210.5 430 211.5"/>
<path d="M403.8 242C404.8 241.5 408.4 238.3 409.6 239C410.8 239.7 411.8 245.4 411 246.4C410.2 247.4 406.2 245.7 405 245C403.8 244.3 404 242.5 403.8 242"/>
<path d="M395 258C395.8 257.3 398 253.8 399.5 253.6C401 253.3 401.9 256.3 403.8 256.5C405.7 256.7 410.3 254.2 411 255C411.7 255.8 409.7 259.5 408 261C406.3 262.5 402.9 263.6 401 263.8C399.1 264 397.5 263.4 396.5 262.4C395.5 261.4 395.2 258.7 395 258"/>
<path d="M404 242.7C404.9 242 408.3 237.9 409.5 238.6C410.7 239.3 411.9 246.1 411 246.8C410.1 247.5 405.2 243.4 404 242.7"/>
<path d="M249 182C250.5 183 255.5 185.1 258 188C260.5 190.9 262.1 195.6 263.8 199.6C265.5 203.6 267.3 209.9 268 212"/>
<path d="M281 60 L284 74.5"/>
<path d="M513 262C513.5 264.2 514.7 270.7 516 275C517.3 279.3 519.8 283.8 521 288C522.2 292.2 523.7 296.7 523 300C522.3 303.3 519.5 305.3 517 308C514.5 310.7 510.3 313 508 316C505.7 319 503.8 324.3 503 326"/>
</g>
<path d="M8 80L13.6 81L12.7 82.900L8 84.200Z" fill="#28c8f0" stroke="#9ad84a" stroke-width="0.8"/>
<g fill="none" stroke="#5fd0b0" stroke-width="0.9" stroke-linecap="round">
<path d="M9 150C9.5 149.1 10 145.9 11.8 144.5C13.6 143.1 18.6 142.2 20 141.8"/>
<path d="M43.6 161C44.5 159.2 47.2 153.3 49 150C50.8 146.7 52.8 143.3 54.5 141C56.2 138.7 58.2 137.2 59 136.4"/>
<path d="M38 174C38.8 172.7 41.5 168.8 43 166C44.5 163.2 46.3 158.5 47 157"/>
</g>
<path d="M72 185C71.4 185.8 69.3 187.5 68.5 190C67.7 192.5 67.1 196.3 67 200C66.9 203.7 68 207.8 68 212C68 216.2 67.8 221 67 225C66.2 229 64.1 234.2 63.5 236" fill="none" stroke="#2a9ac0" stroke-width="1.1"/>
<g fill="none" stroke="#229acc" stroke-width="1.6" stroke-linecap="round">
<path d="M224.5 193.6C223.3 194.8 219.7 198.3 217.3 201C214.9 203.7 212.4 206.7 210 210C207.6 213.3 204.5 217.8 202.7 221C200.9 224.2 199.9 226.9 199 229C198.1 231.1 199.1 232.8 197.3 233.6C195.5 234.4 191.1 234 188 233.6C184.9 233.2 181.2 232.1 179 231C176.8 229.9 176.2 227.2 174.5 227.3C172.8 227.4 170.7 229.9 169 231.8C167.3 233.8 165.4 236.3 164.5 239C163.6 241.7 163.6 245.6 163.6 248C163.6 250.4 164.3 252.7 164.5 253.6"/>
<path d="M174.5 227.3C172.9 228.1 168.2 230.3 165 232C161.8 233.7 157.7 235.2 155.5 237.3C153.3 239.4 152.6 242.1 151.8 244.5C151.1 246.9 151.1 250.6 151 251.8"/>
<path d="M262 226C260.7 225.6 257.7 224.7 254 223.3C250.3 221.9 244.2 218.6 240 217.8C235.8 217 232.8 218 229 218.5C225.2 219 220.8 219.5 217 221C213.2 222.5 208.9 225.6 206 227.6C203.1 229.6 200.7 232.1 199.6 233"/>
<path d="M154 240C154.7 241.2 157 244.8 158 247C159 249.2 159.7 252 160 253"/>
<path d="M169 216.4C170.5 216.6 176.3 216.7 178 217.3C179.7 217.9 180.2 219.7 179 220C177.8 220.3 172.7 219.6 171 219C169.3 218.4 169.3 216.8 169 216.4"/>
<path d="M158 253.6C159.6 254.1 165.9 255.6 167.3 256.4C168.7 257.2 168.2 258.3 166.5 258.2C164.8 258.1 158.7 256.3 157.3 255.5C155.9 254.7 157.9 253.9 158 253.6"/>
<path d="M178 195.5C178.9 196.4 182.8 198.3 183.6 201C184.4 203.7 183.5 209.1 182.7 211.8C181.9 214.5 179.6 216.4 179 217.3"/>
<path d="M165.5 217.3C163.5 217.6 157.4 218.6 153.6 219C149.8 219.4 144.8 218.8 142.7 220C140.6 221.2 141.3 224.1 141 226.4C140.7 228.7 141 232.4 141 233.6"/>
</g>
<path d="M305 104C304.8 104.7 305.3 106.5 303.6 108C301.9 109.5 297.9 110.5 295 112.7C292.1 115 288.4 118.1 286 121.5C283.6 124.9 282.6 128.8 280.4 133C278.1 137.2 275.3 142.2 272.5 147C269.7 151.8 267.2 157.6 263.8 161.8C260.4 166 255.4 168.6 252 172C248.6 175.4 246.9 178.8 243.5 182C240.1 185.2 235 188.9 231.8 191C228.6 193.1 225.7 193.9 224.5 194.5" fill="none" stroke="#2494c2" stroke-width="2.3" stroke-linecap="round"/>
<path d="M543 331.8C541.4 332.4 536.4 333.8 533.6 335.5C530.8 337.2 528.3 340.1 526 341.8C523.7 343.5 522.1 344.9 520 345.5C517.9 346.1 514.7 345.5 513.6 345.5" fill="none" stroke="#3a3030" stroke-width="0.9"/>
<path d="M543 334.5C541.6 335.2 537 336.9 534.5 339C532 341.1 530 344.6 528 347C526 349.4 524.8 352.4 522.7 353.6C520.6 354.9 518.1 354.6 515.5 354.5C512.9 354.4 508.4 353 507 352.7" fill="none" stroke="#3a3030" stroke-width="0.9"/>
<path d="M516 359.600L522.7 358" stroke="#ff7f3f" stroke-width="1.2"/>
<path d="M480 282.700L499 276.4" stroke="#3a2010" stroke-width="0.9"/>
<path d="M298 292.700L307 267" stroke="#111" stroke-width="1.1"/>
<g stroke="#222" stroke-width="0.8" opacity="0.5">
<path d="M8 111.500H543M8 267.300H543M70 8V267.300M291 8V403"/>
</g>
<path d="M512.6 8V403" stroke="#2a2020" stroke-width="1.1"/>
<rect x="8" y="8" width="535" height="395" fill="none" stroke="#222" stroke-width="1.3"/>
</g>
<g font-family="'Liberation Sans', Arial, sans-serif" fill="#111">
<text x="45" y="21.6" font-size="14" textLength="46" lengthAdjust="spacingAndGlyphs">109<tspan font-size="8.5" dy="-4.5">°</tspan><tspan dy="4.5">00’</tspan></text>
<text x="264.5" y="22.3" font-size="14" textLength="46" lengthAdjust="spacingAndGlyphs">109<tspan font-size="8.5" dy="-4.5">°</tspan><tspan dy="4.5">15’</tspan></text>
<text x="486.5" y="21.6" font-size="14" textLength="46" lengthAdjust="spacingAndGlyphs">109<tspan font-size="8.5" dy="-4.5">°</tspan><tspan dy="4.5">30’</tspan></text>
<text x="9" y="110.3" font-size="14" textLength="39" lengthAdjust="spacingAndGlyphs">18<tspan font-size="8.5" dy="-4.5">°</tspan><tspan dy="4.5">30’</tspan></text>
<text x="9" y="266.2" font-size="14" textLength="39" lengthAdjust="spacingAndGlyphs">18<tspan font-size="8.5" dy="-4.5">°</tspan><tspan dy="4.5">20’</tspan></text>
<text x="27.8" y="319.3" font-size="22">a</text>
</g>
<g font-family="'Liberation Serif', 'Times New Roman', serif" fill="#1a1208" stroke="#1a1208" stroke-width="0.2">
<text x="95.5" y="43" font-size="13">γ</text>
<text x="455.5" y="49" font-size="13">γ</text>
<text x="26.4" y="145.6" font-size="12">Qh</text>
<text x="214.5" y="244.5" font-size="12.5" fill="#4a2a08">Qh</text>
<text x="389" y="302" font-size="12" >Qh</text>
<text x="291.5" y="293" font-size="8">A</text>
<text x="305.5" y="266.5" font-size="8">A’</text>
<text transform="translate(238,177.5) rotate(-52.4)" font-size="14" textLength="90" lengthAdjust="spacingAndGlyphs" fill="#3a1a05">Ningyuan River</text>
<text transform="translate(99.3,247.4) rotate(28)" font-size="13.5" textLength="42" lengthAdjust="spacingAndGlyphs">Yazhou</text>
<text transform="translate(142.5,270) rotate(19)" font-size="13.5" textLength="21.7" lengthAdjust="spacingAndGlyphs">Bay</text>
<text transform="translate(254.2,316.2) rotate(-2.3)" font-size="13.2" textLength="83" lengthAdjust="spacingAndGlyphs">Hongtang Bay</text>
<text transform="translate(421,326.5) rotate(25)" font-size="14" textLength="61" lengthAdjust="spacingAndGlyphs">Sanya Bay</text>
<text transform="translate(458,274.5) rotate(60)" font-size="13.4" textLength="66" lengthAdjust="spacingAndGlyphs">Sanya River</text>
<rect x="23" y="348" width="24" height="14" fill="#ffff00" stroke="#222" stroke-width="0.9"/>
<rect x="23" y="370" width="24" height="14" fill="#ff9900" stroke="#222" stroke-width="0.9"/>
<text x="28" y="359.5" font-size="12">Qh</text>
<text x="31.5" y="381" font-size="12">γ</text>
<text x="53.5" y="361" font-size="14.7" textLength="129" lengthAdjust="spacingAndGlyphs">Quaternary sediments</text>
<text x="53.5" y="381.8" font-size="14.7" textLength="50.5" lengthAdjust="spacingAndGlyphs">Granites</text>
</g>
<g id="section">
<path d="M100.7 574.4C101.9 574 105.7 573.1 107.7 571.8C109.7 570.5 111.1 568.1 112.8 566.7C114.5 565.3 116.5 563.8 118 563.4C119.5 563 120 563.4 121.7 564.2C123.4 565.1 126.1 567.5 128 568.5C129.9 569.5 130.9 570.2 133 570C135.1 569.8 137.4 568.5 140.8 567.5C144.2 566.5 148.8 565 153.5 564.2C158.2 563.5 164.1 563 168.8 563C173.5 563 178.1 563.4 181.5 564.2C184.9 565 186.9 566.9 189 568C191.1 569.1 192.3 570.2 194.2 571C196.1 571.8 198.3 572.7 200.6 572.6C202.9 572.5 205.3 571.4 208 570.5C210.7 569.6 213.8 568.3 217 567.5C220.2 566.7 224.3 566 227.3 565.6C230.3 565.2 231.6 565.8 235 565.4C238.4 565 244.2 564 248 563C251.8 562 253.3 560.2 258 559.7C262.7 559.2 269.7 559.8 276 559.8C282.3 559.8 290.1 560 296 559.8C301.9 559.6 307.7 559.6 311.5 558.6C315.3 557.6 317.8 554.8 319 554L319 554C318.2 555.1 315.5 557.7 314 560.5C312.5 563.3 311.5 566.9 310 570.7C308.5 574.5 306.9 579.6 305 583.4C303.1 587.2 301.5 590.2 298.8 593.6C296.1 597 292.4 600.8 288.6 603.8C284.8 606.8 280.3 609.3 276 611.4C271.7 613.5 267.2 615.1 263 616.5C258.8 617.9 254.7 619.1 250.5 619.6C246.3 620.1 241.9 619.7 237.7 619.6C233.4 619.5 231.8 619 225 619C218.2 619 205.8 619.3 196.8 619.6C187.8 619.9 179.5 620.1 171 621C162.5 621.9 154.4 623.4 146 624.7C137.6 626 128 627.6 120.4 629C112.9 630.4 104 632.3 100.7 633Z" fill="#dad7ea"/>
<path d="M100.7 633C104 632.3 112.9 630.4 120.4 629C128 627.6 137.6 626 146 624.7C154.4 623.4 162.5 621.9 171 621C179.5 620.1 187.8 619.9 196.8 619.6C205.8 619.3 218.2 619 225 619C231.8 619 233.4 619.5 237.7 619.6C241.9 619.7 246.3 620.1 250.5 619.6C254.7 619.1 258.8 617.9 263 616.5C267.2 615.1 271.7 613.5 276 611.4C280.3 609.3 284.8 606.8 288.6 603.8C292.4 600.8 296.1 597 298.8 593.6C301.5 590.2 303.1 587.2 305 583.4C306.9 579.6 308.5 574.5 310 570.7C311.5 566.9 312.5 563.3 314 560.5C315.5 557.7 318.2 555.1 319 554C321.2 553.8 327.7 554 332 553C336.3 552 340.8 549.8 344.6 547.8C348.4 545.8 351.6 543.2 355 540.7C358.4 538.2 361.6 535.8 365 533C368.4 530.2 372 526.8 375.4 524C378.8 521.2 382.6 518.1 385.5 516.5C388.4 514.9 390.4 514.6 393 514.5C395.6 514.4 397.8 514.8 400.8 516C403.8 517.2 407.6 519.8 411 521.6C414.4 523.4 417.6 525.4 421 526.7C424.4 528.1 427.9 529.1 431.3 529.7C434.7 530.3 438.6 530.4 441.5 530.5C444.4 530.6 447.4 530.5 448.6 530.5L448.6 558L448.6 558C443 559.2 427.3 561.8 415 565C402.7 568.2 383.3 574.7 375 577.5C366.7 580.3 369.7 580.2 365 582C360.3 583.8 353.4 585.7 347 588.5C340.6 591.3 334.5 594.9 326.8 598.7C319.1 602.5 309.5 607.6 301 611.4C292.5 615.2 284.4 618.8 276 621.6C267.6 624.4 259 626.4 250.5 628C242 629.6 231.8 630.7 225 631.5C218.2 632.3 216.3 632.1 209.5 633C202.7 633.9 192.5 635.7 184 637C175.5 638.3 167.1 639.2 158.6 640.7C150.1 642.2 140.3 644.3 133 645.8C125.7 647.3 120.4 649.2 115 649.6C109.6 650 103.1 648.3 100.7 648Z" fill="#f9b9a6"/>
<path d="M319 554C320.3 552.8 323.4 549 326.8 546.5C330.2 544 335.7 541.3 339.5 539C343.3 536.7 347.1 535.1 349.7 532.5C352.3 529.9 353.5 525.2 355 523.5C356.5 521.8 357.5 523.2 358.8 522C360.1 520.8 361.1 519.5 362.6 516.5C364.1 513.5 366.4 507.1 367.7 503.8C369 500.5 369.4 498.1 370.3 496.7C371.2 495.3 371.5 497.8 372.8 495.6C374.1 493.4 376.1 488.8 378 483.4C379.9 478 382.6 467.7 384.3 463C386 458.3 386.6 457.5 388 455.4C389.4 453.3 391.5 452.5 393 450.4C394.5 448.3 395.9 444.2 397 442.7C398.1 441.2 398.4 441.1 399.5 441.5C400.6 441.9 401.8 443 403.3 445.3C404.8 447.6 406.7 451.2 408.4 455.4C410.1 459.6 411.8 465.2 413.5 470.7C415.2 476.2 417.1 482.6 418.6 488.5C420.1 494.4 421.2 501.2 422.4 506.3C423.6 511.4 424.7 515.8 426 519C427.3 522.2 428.7 523.9 430 525.4C431.3 526.9 432.5 527.7 434 528C435.5 528.3 437.3 527.6 439 527.2C440.7 526.8 442.4 525.9 444 525.4C445.6 524.9 447.8 524.2 448.6 524L448.6 530.5C447.4 530.5 444.4 530.6 441.5 530.5C438.6 530.4 434.7 530.3 431.3 529.7C427.9 529.1 424.4 528.1 421 526.7C417.6 525.4 414.4 523.4 411 521.6C407.6 519.8 403.8 517.2 400.8 516C397.8 514.8 395.6 514.4 393 514.5C390.4 514.6 388.4 514.9 385.5 516.5C382.6 518.1 378.8 521.2 375.4 524C372 526.8 368.4 530.2 365 533C361.6 535.8 358.4 538.2 355 540.7C351.6 543.2 348.4 545.8 344.6 547.8C340.8 549.8 336.3 552 332 553C327.7 554 321.2 553.8 319 554Z" fill="#ff9900"/>
<path d="M100.7 573.5C101.3 573.2 103.1 572.9 104.5 571.5C105.9 570.1 107.4 567.7 109 565.4C110.6 563.1 112.5 559.6 114 557.8C115.5 556 116.7 554.8 118 554.8C119.3 554.8 120.2 556.3 121.7 557.8C123.2 559.3 125.1 562.4 126.8 564C128.5 565.6 130.5 567 132 567.5C133.5 568 134.2 567.4 135.7 566.7C137.2 566 137.8 564.5 140.8 563.4C143.8 562.3 148.8 561.1 153.5 560.4C158.2 559.7 164.1 558.9 168.8 559C173.5 559.1 178.3 560.3 181.5 560.9C184.7 561.5 185.4 562.4 188 562.8C190.6 563.2 194 563.4 197 563.4C200 563.4 203.1 563.3 206 563C208.9 562.7 211.1 561.8 214.6 561.6C218.1 561.4 223.6 561.4 227 561.6C230.4 561.8 231.5 563.2 235 563C238.5 562.8 244.2 561.8 248 560.5C251.8 559.2 254.2 556.5 258 555.4C261.8 554.3 266.6 554 270.8 554C275.1 554 278.5 555.2 283.5 555.4C288.5 555.6 295.8 555.8 301 555.4C306.2 555 312 553.2 315 553C318 552.8 318.3 553.8 319 554L319 554C317.8 554.8 315.3 557.6 311.5 558.6C307.7 559.6 301.9 559.6 296 559.8C290.1 560 282.3 559.8 276 559.8C269.7 559.8 262.7 559.2 258 559.7C253.3 560.2 251.8 562 248 563C244.2 564 238.4 565 235 565.4C231.6 565.8 230.3 565.2 227.3 565.6C224.3 566 220.2 566.7 217 567.5C213.8 568.3 210.7 569.6 208 570.5C205.3 571.4 202.9 572.5 200.6 572.6C198.3 572.7 196.1 571.8 194.2 571C192.3 570.2 191.1 569.1 189 568C186.9 566.9 184.9 565 181.5 564.2C178.1 563.4 173.5 563 168.8 563C164.1 563 158.2 563.5 153.5 564.2C148.8 565 144.2 566.5 140.8 567.5C137.4 568.5 135.1 569.8 133 570C130.9 570.2 129.9 569.5 128 568.5C126.1 567.5 123.4 565.1 121.7 564.2C120 563.4 119.5 563 118 563.4C116.5 563.8 114.5 565.3 112.8 566.7C111.1 568.1 109.7 570.5 107.7 571.8C105.7 573.1 101.9 574 100.7 574.4Z" fill="#f2ee1e"/>
<path d="M100.7 567.200L110 565.800L105.8 571.300L100.7 574.800Z" fill="#1fb4ea"/>
<path d="M100.7 624.6C104 624.2 112.9 623 120.4 622.2C128 621.4 137.6 620.4 146 619.6C154.4 618.8 162.5 618.1 171 617.6C179.5 617.1 187.8 616.8 196.8 616.5C205.8 616.2 217.8 616 225 616C232.2 616 235.3 615.8 240 616.3C244.7 616.8 250.8 618.7 253 619.2L250.5 619.6C248.4 619.6 241.9 619.7 237.7 619.6C233.4 619.5 231.8 619 225 619C218.2 619 205.8 619.3 196.8 619.6C187.8 619.9 179.5 620.1 171 621C162.5 621.9 154.4 623.4 146 624.7C137.6 626 128 627.6 120.4 629C112.9 630.4 104 632.3 100.7 633Z" fill="#84dc50"/>
<path d="M144.6 581C147.9 580.5 164 579.7 171 579.6C178 579.5 190.7 580.8 196.8 580.6C202.9 580.4 211.9 579 217 578C222.1 577 230.9 574.3 235 573.4C239.1 572.5 244.3 571.5 248 571C251.7 570.5 257.6 569.8 263 569.4C268.4 569 282.5 568 288.6 567.7C294.7 567.4 306.5 566.4 309 567C311.5 567.6 310.4 571.2 307.7 572C305 572.8 294.6 572.5 288.6 572.7C282.6 572.9 269.5 573.2 263 573.8C256.5 574.4 245.1 576.1 240 577C234.9 577.9 228.1 579.7 225 580.4C221.9 581.1 220.8 581.5 217 582C213.2 582.5 202.9 583.8 196.8 584C190.7 584.2 177.8 583.5 171 583.4C164.2 583.3 149.5 583.3 146 583C142.5 582.7 141.3 581.5 144.6 581Z" fill="#84dc50" stroke="#6a7a5a" stroke-width="0.5"/>
<path d="M148.4 586.5C150.7 586 165.7 585.6 171 585.5C176.3 585.4 185.4 585.2 188 585.5C190.6 585.8 190.6 587.3 190.4 588C190.2 588.7 189.2 590.3 186.6 590.6C184 590.9 175.4 590.8 171 590.6C166.6 590.4 156.5 589.5 153.5 589C150.5 588.5 146.1 587 148.4 586.5Z" fill="#84dc50" stroke="#6a7a5a" stroke-width="0.5"/>
<path d="M119 602.7C120.7 601.6 139.1 599 146 598C152.9 597 164.2 595.6 171 595C177.8 594.4 190 593.6 196.8 593.6C203.6 593.6 217.7 594.5 222 595C226.3 595.5 227.6 596.5 229 597C230.4 597.5 231.6 598 232.6 598.7C233.6 599.4 235.8 601.5 236.5 602.5C237.2 603.5 238.2 605.3 237.7 606C237.2 606.7 234.3 607.2 232.6 607.6C230.9 608 227.1 608.5 225 609C222.9 609.5 220.8 610.8 217 611.4C213.2 612 202.9 613.2 196.8 613.5C190.7 613.8 177.1 613.8 171 613.5C164.9 613.2 156.1 612.4 151 611.4C145.9 610.4 137.3 607.2 133 606C128.7 604.8 117.3 603.8 119 602.7Z" fill="#84dc50" stroke="#6a7a5a" stroke-width="0.5"/>
<path d="M100.7 605L119 602.7" stroke="#2a2420" stroke-width="1"/>
<path d="M225 568C229.2 567.6 240.8 566.3 250 565.5C259.2 564.7 269.8 563.6 280 563C290.2 562.4 305.8 562 311 561.8" fill="none" stroke="#8a8a98" stroke-width="0.7"/>
<g fill="none" stroke="#2a2420" stroke-width="0.95" stroke-linejoin="round">
<path d="M100.7 573.5C101.3 573.2 103.1 572.9 104.5 571.5C105.9 570.1 107.4 567.7 109 565.4C110.6 563.1 112.5 559.6 114 557.8C115.5 556 116.7 554.8 118 554.8C119.3 554.8 120.2 556.3 121.7 557.8C123.2 559.3 125.1 562.4 126.8 564C128.5 565.6 130.5 567 132 567.5C133.5 568 134.2 567.4 135.7 566.7C137.2 566 137.8 564.5 140.8 563.4C143.8 562.3 148.8 561.1 153.5 560.4C158.2 559.7 164.1 558.9 168.8 559C173.5 559.1 178.3 560.3 181.5 560.9C184.7 561.5 185.4 562.4 188 562.8C190.6 563.2 194 563.4 197 563.4C200 563.4 203.1 563.3 206 563C208.9 562.7 211.1 561.8 214.6 561.6C218.1 561.4 223.6 561.4 227 561.6C230.4 561.8 231.5 563.2 235 563C238.5 562.8 244.2 561.8 248 560.5C251.8 559.2 254.2 556.5 258 555.4C261.8 554.3 266.6 554 270.8 554C275.1 554 278.5 555.2 283.5 555.4C288.5 555.6 295.8 555.8 301 555.4C306.2 555 312 553.2 315 553C318 552.8 318.3 553.8 319 554C320.3 552.8 323.4 549 326.8 546.5C330.2 544 335.7 541.3 339.5 539C343.3 536.7 347.1 535.1 349.7 532.5C352.3 529.9 353.5 525.2 355 523.5C356.5 521.8 357.5 523.2 358.8 522C360.1 520.8 361.1 519.5 362.6 516.5C364.1 513.5 366.4 507.1 367.7 503.8C369 500.5 369.4 498.1 370.3 496.7C371.2 495.3 371.5 497.8 372.8 495.6C374.1 493.4 376.1 488.8 378 483.4C379.9 478 382.6 467.7 384.3 463C386 458.3 386.6 457.5 388 455.4C389.4 453.3 391.5 452.5 393 450.4C394.5 448.3 395.9 444.2 397 442.7C398.1 441.2 398.4 441.1 399.5 441.5C400.6 441.9 401.8 443 403.3 445.3C404.8 447.6 406.7 451.2 408.4 455.4C410.1 459.6 411.8 465.2 413.5 470.7C415.2 476.2 417.1 482.6 418.6 488.5C420.1 494.4 421.2 501.2 422.4 506.3C423.6 511.4 424.7 515.8 426 519C427.3 522.2 428.7 523.9 430 525.4C431.3 526.9 432.5 527.7 434 528C435.5 528.3 437.3 527.6 439 527.2C440.7 526.8 442.4 525.9 444 525.4C445.6 524.9 447.8 524.2 448.6 524"/>
<path d="M100.7 574.4C101.9 574 105.7 573.1 107.7 571.8C109.7 570.5 111.1 568.1 112.8 566.7C114.5 565.3 116.5 563.8 118 563.4C119.5 563 120 563.4 121.7 564.2C123.4 565.1 126.1 567.5 128 568.5C129.9 569.5 130.9 570.2 133 570C135.1 569.8 137.4 568.5 140.8 567.5C144.2 566.5 148.8 565 153.5 564.2C158.2 563.5 164.1 563 168.8 563C173.5 563 178.1 563.4 181.5 564.2C184.9 565 186.9 566.9 189 568C191.1 569.1 192.3 570.2 194.2 571C196.1 571.8 198.3 572.7 200.6 572.6C202.9 572.5 205.3 571.4 208 570.5C210.7 569.6 213.8 568.3 217 567.5C220.2 566.7 224.3 566 227.3 565.6C230.3 565.2 231.6 565.8 235 565.4C238.4 565 244.2 564 248 563C251.8 562 253.3 560.2 258 559.7C262.7 559.2 269.7 559.8 276 559.8C282.3 559.8 290.1 560 296 559.8C301.9 559.6 307.7 559.6 311.5 558.6C315.3 557.6 317.8 554.8 319 554"/>
<path d="M100.7 633C104 632.3 112.9 630.4 120.4 629C128 627.6 137.6 626 146 624.7C154.4 623.4 162.5 621.9 171 621C179.5 620.1 187.8 619.9 196.8 619.6C205.8 619.3 218.2 619 225 619C231.8 619 233.4 619.5 237.7 619.6C241.9 619.7 246.3 620.1 250.5 619.6C254.7 619.1 258.8 617.9 263 616.5C267.2 615.1 271.7 613.5 276 611.4C280.3 609.3 284.8 606.8 288.6 603.8C292.4 600.8 296.1 597 298.8 593.6C301.5 590.2 303.1 587.2 305 583.4C306.9 579.6 308.5 574.5 310 570.7C311.5 566.9 312.5 563.3 314 560.5C315.5 557.7 318.2 555.1 319 554"/>
<path d="M100.7 648C103.1 648.3 109.6 650 115 649.6C120.4 649.2 125.7 647.3 133 645.8C140.3 644.3 150.1 642.2 158.6 640.7C167.1 639.2 175.5 638.3 184 637C192.5 635.7 202.7 633.9 209.5 633C216.3 632.1 218.2 632.3 225 631.5C231.8 630.7 242 629.6 250.5 628C259 626.4 267.6 624.4 276 621.6C284.4 618.8 292.5 615.2 301 611.4C309.5 607.6 319.1 602.5 326.8 598.7C334.5 594.9 340.6 591.3 347 588.5C353.4 585.7 360.3 583.8 365 582C369.7 580.2 366.7 580.3 375 577.5C383.3 574.7 402.7 568.2 415 565C427.3 561.8 443 559.2 448.6 558"/>
<path d="M100.7 624.6C104 624.2 112.9 623 120.4 622.2C128 621.4 137.6 620.4 146 619.6C154.4 618.8 162.5 618.1 171 617.6C179.5 617.1 187.8 616.8 196.8 616.5C205.8 616.2 217.8 616 225 616C232.2 616 235.3 615.8 240 616.3C244.7 616.8 250.8 618.7 253 619.2"/>
</g>
<path d="M109 565.4C109.8 564.8 112.5 562.5 114 561.6C115.5 560.7 116.5 559.6 118 559.8C119.5 560 121.1 561.9 123 563C124.9 564.1 127.3 566.1 129.4 566.7C131.5 567.3 132.9 567.2 135.7 566.7C138.5 566.2 140.5 564.2 146 563.4C151.5 562.5 162.9 561.8 168.8 561.6C174.7 561.4 178 561.8 181.5 562.4C185 563 187.4 564.6 190 565.5C192.6 566.4 194.3 567.2 197 567.5C199.7 567.8 203.5 567.4 206 567C208.5 566.6 209.3 565.6 212 565C214.7 564.4 218.2 563.7 222 563.6C225.8 563.5 230.7 564.6 235 564.3C239.3 564 244.2 563.1 248 562C251.8 560.9 253.3 558.3 258 557.5C262.7 556.7 269.7 557 276 557C282.3 557 290.2 557.4 296 557.3C301.8 557.2 307.2 556.8 311 556.3C314.8 555.8 317.7 554.4 319 554" fill="none" stroke="#1f9ad0" stroke-width="1.05" stroke-dasharray="4 2.5"/>
<path d="M319 554C321.2 553.8 327.7 554 332 553C336.3 552 340.8 549.8 344.6 547.8C348.4 545.8 351.6 543.2 355 540.7C358.4 538.2 361.6 535.8 365 533C368.4 530.2 372 526.8 375.4 524C378.8 521.2 382.6 518.1 385.5 516.5C388.4 514.9 390.4 514.6 393 514.5C395.6 514.4 397.8 514.8 400.8 516C403.8 517.2 407.6 519.8 411 521.6C414.4 523.4 417.6 525.4 421 526.7C424.4 528.1 427.9 529.1 431.3 529.7C434.7 530.3 438.6 530.4 441.5 530.5C444.4 530.6 447.4 530.5 448.6 530.5" fill="none" stroke="#1f8fc0" stroke-width="1.3"/>
<path d="M319 554C321.2 553.8 327.7 554 332 553C336.3 552 340.8 549.8 344.6 547.8C348.4 545.8 351.6 543.2 355 540.7C358.4 538.2 361.6 535.8 365 533C368.4 530.2 372 526.8 375.4 524C378.8 521.2 382.6 518.1 385.5 516.5C388.4 514.9 390.4 514.6 393 514.5C395.6 514.4 397.8 514.8 400.8 516C403.8 517.2 407.6 519.8 411 521.6C414.4 523.4 417.6 525.4 421 526.7C424.4 528.1 427.9 529.1 431.3 529.7C434.7 530.3 438.6 530.4 441.5 530.5C444.4 530.6 447.4 530.5 448.6 530.5" fill="none" stroke="#2a2420" stroke-width="0.5" stroke-dasharray="3 3"/>
<path d="M391 511.500L395 511.500L393 514Z" fill="#5ab0c0"/>
<path d="M116.5 541.500L103.5 568" stroke="#555" stroke-width="0.6"/>
<path d="M315 533L306.3 554.7" stroke="#555" stroke-width="0.6"/>
<g stroke="#2a2420" stroke-width="1.2" fill="none">
<path d="M100.7 441.5V652.6H448.6V441.5"/>
<path d="M95.2 454.5H100.7M448.6 454.5H453.6M95.2 482.8H100.7M448.6 482.8H453.6M95.2 511.1H100.7M448.6 511.1H453.6M95.2 539.4H100.7M448.6 539.4H453.6M95.2 567.7H100.7M448.6 567.7H453.6M95.2 596H100.7M448.6 596H453.6M95.2 624.3H100.7M448.6 624.3H453.6M95.2 652.6H100.7M448.6 652.6H453.6"/>
</g>
<rect x="309.2" y="645.6" width="114.3" height="3" rx="1.5" fill="#bdbdbd" stroke="#333" stroke-width="0.7"/>
<g font-family="'Liberation Serif', 'Times New Roman', serif" fill="#1a1410" stroke="#1a1410" stroke-width="0.2" font-size="14">
<text x="90.8" y="460.2" text-anchor="end" letter-spacing="0.6">160</text>
<text x="459.3" y="460.2" letter-spacing="0.6">160</text>
<text x="90.8" y="488.5" text-anchor="end" letter-spacing="0.6">120</text>
<text x="459.3" y="488.5" letter-spacing="0.6">120</text>
<text x="90.8" y="516.8" text-anchor="end" letter-spacing="0.6">80</text>
<text x="459.3" y="516.8" letter-spacing="0.6">80</text>
<text x="90.8" y="545.1" text-anchor="end" letter-spacing="0.6">40</text>
<text x="459.3" y="545.1" letter-spacing="0.6">40</text>
<text x="90.8" y="573.4" text-anchor="end" letter-spacing="0.6">0</text>
<text x="459.3" y="573.4" letter-spacing="0.6">0</text>
<text x="90.8" y="601.7" text-anchor="end" letter-spacing="0.6">−40</text>
<text x="459.3" y="601.7" letter-spacing="0.6">−40</text>
<text x="90.8" y="630" text-anchor="end" letter-spacing="0.6">−80</text>
<text x="459.3" y="630" letter-spacing="0.6">−80</text>
<text x="90.8" y="658.6" text-anchor="end" letter-spacing="0.6">−120</text>
<text x="459.3" y="658.6" letter-spacing="0.6">−120</text>
<text x="96.5" y="428.7" font-size="12.5">A</text>
<text x="447" y="428.7" font-size="12.5">A’</text>
<text x="107.5" y="541" font-size="11.5">Sea</text>
<text x="114.5" y="590.5" font-size="13">N<tspan font-size="6.5" dy="2.5">2W</tspan></text>
<text x="266.5" y="595" font-size="13">N<tspan font-size="6.5" dy="2.5">2W</tspan></text>
<text x="139" y="639" font-size="12.5">γ <tspan font-weight="bold">k</tspan><tspan font-size="6" dy="2">1</tspan></text>
<text x="357" y="560.5" font-size="12.5">γ <tspan font-weight="bold">k</tspan><tspan font-size="6" dy="2">1</tspan></text>
<text x="391.5" y="501" font-size="12.5">γ <tspan font-weight="bold">T</tspan><tspan font-size="6" dy="2">1</tspan></text>
<text x="192" y="572" font-size="11.5">Qh</text>
<text transform="translate(499.2,577.8) rotate(-90)" font-size="15" textLength="71.8" lengthAdjust="spacingAndGlyphs">Elevation/m</text>
</g>
<g font-family="'Liberation Sans', Arial, sans-serif" fill="#1a1a1a">
<text x="27" y="455.8" font-size="22">b</text>
<text x="281" y="531.8" font-size="12.5">Water level</text>
<text x="308.5" y="642.8" font-size="13">0</text>
<text x="414.3" y="642.8" font-size="13.5">2 km</text>
</g>
<rect x="120.5" y="666.7" width="24.6" height="13.6" fill="#f9b9a6" stroke="#333" stroke-width="0.9"/>
<rect x="178.5" y="666.7" width="24.6" height="13.6" fill="#ff9900" stroke="#333" stroke-width="0.9"/>
<rect x="235.5" y="666.7" width="24.6" height="13.6" fill="#dad7ea" stroke="#333" stroke-width="0.9"/>
<rect x="292.8" y="666.7" width="24.6" height="13.6" fill="#ffff00" stroke="#333" stroke-width="0.9"/>
<rect x="350" y="666.7" width="24.6" height="13.6" fill="#ffffff" stroke="#333" stroke-width="0.9"/>
<rect x="400.2" y="666.7" width="24.6" height="13.6" fill="#84dc50" stroke="#333" stroke-width="0.9"/>
<path d="M351 675.500L355 676L359 674.500M361 672.500L363.5 671.500M364 674.500L369 673.500M370 671L374 671.5" fill="none" stroke="#1f9ad0" stroke-width="1.1"/>
<g font-family="'Liberation Serif', 'Times New Roman', serif" fill="#1a1410" stroke="#1a1410" stroke-width="0.2">
<text x="124.5" y="677.8" font-size="12" fill="#4a2a18" stroke="none">γ <tspan font-weight="bold">k</tspan><tspan font-size="6" dy="1.5">1</tspan></text>
<text x="182.5" y="677.8" font-size="12" fill="#4a2a18" stroke="none">γ <tspan font-weight="bold">T</tspan><tspan font-size="6" dy="1.5">1</tspan></text>
<text x="240" y="677.5" font-size="12" fill="#4a2a18" stroke="none">N<tspan font-size="6" dy="2">2W</tspan></text>
<text x="298.5" y="677.8" font-size="12" fill="#4a2a18" stroke="none">Qh</text>
<text x="80.7" y="701.2" font-size="14.8" textLength="125.4" lengthAdjust="spacingAndGlyphs">1Cretatcious granites</text>
<text x="217.3" y="701.2" font-size="14.8" textLength="100.3" lengthAdjust="spacingAndGlyphs">2Trassic granites</text>
<text x="326.4" y="701.2" font-size="14.8" textLength="138.1" lengthAdjust="spacingAndGlyphs">3Pleistocene sediments</text>
<text x="78.9" y="721" font-size="14.8" textLength="124.7" lengthAdjust="spacingAndGlyphs">4Halocene sediments</text>
<text x="217.3" y="721" font-size="14.8" textLength="72.3" lengthAdjust="spacingAndGlyphs">5Water level</text>
<text x="326.4" y="721" font-size="14.8" textLength="126.1" lengthAdjust="spacingAndGlyphs">6Water enriched zone</text>
</g>
<g font-family="'Liberation Sans', Arial, sans-serif" fill="#111" font-size="13.5">
<text x="156.5" y="681">1</text>
<text x="214" y="681" font-weight="bold">2</text>
<text x="273.5" y="681">3</text>
<text x="331" y="681">4</text>
<text x="384" y="681">5</text>
<text x="435" y="681">6</text>
</g>
</g>
</svg>
</body></html>
